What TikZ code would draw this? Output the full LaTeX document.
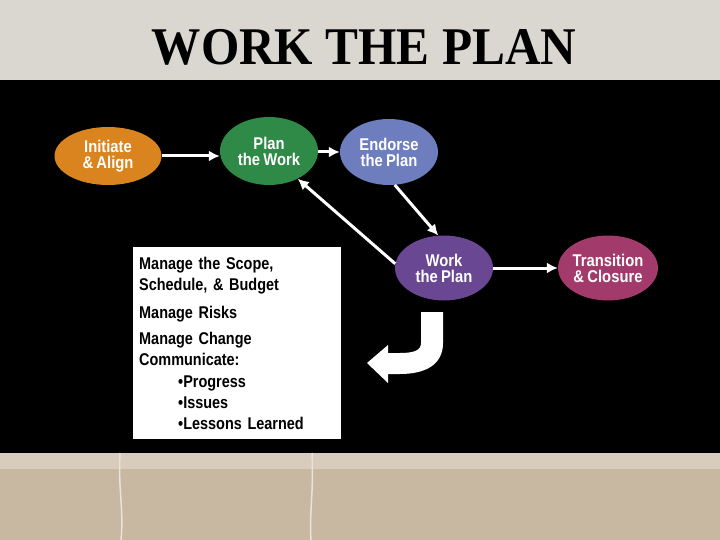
\documentclass[tikz,border=0pt]{standalone}
\usepackage{fontspec}
\setmainfont{Liberation Serif}
\setsansfont{Liberation Sans}
\newfontfamily\narrowsans[FakeStretch=0.87,WordSpace=0.8]{Liberation Sans}
\newfontfamily\boxsans[FakeStretch=0.85,WordSpace=0.75]{Liberation Sans}
\newfontfamily\titlefont[FakeStretch=0.93]{Liberation Serif}
\usetikzlibrary{shapes,arrows.meta,positioning}

\definecolor{marbletop}{HTML}{DAD7D1}
\definecolor{marblebot}{HTML}{C9B8A1}
\definecolor{marblestrip}{HTML}{D8CDBC}
\definecolor{initorange}{HTML}{D9841F}
\definecolor{plangreen}{HTML}{2E8A46}
\definecolor{endorseblue}{HTML}{6E7DBE}
\definecolor{workpurple}{HTML}{6A4793}
\definecolor{closemaroon}{HTML}{A23A6B}

\begin{document}
\begin{tikzpicture}[x=1pt,y=-1pt,
  phase/.style={ellipse,minimum width=98pt,minimum height=66pt,inner sep=0pt,
    align=center,text=white,font=\narrowsans\bfseries\fontsize{17}{16}\selectfont},
  flow/.style={-{Latex[length=11pt,width=11pt]},draw=white,line width=3pt},
  taskbox/.style={rectangle,fill=white,minimum width=208pt,minimum height=192pt,
    text width=196pt,inner sep=6pt,align=left,
    font=\boxsans\bfseries\fontsize{17}{21}\selectfont}]
\useasboundingbox (0,0) rectangle (720,540);

% background
\fill[marbletop] (0,0) rectangle (720,80);
\fill[black] (0,80) rectangle (720,453);
\fill[marblebot] (0,453) rectangle (720,540);
\fill[marblestrip] (0,453) rectangle (720,469);
\draw[white!60!marblebot,line width=1.5pt] (120,453) .. controls (118,490) and (124,510) .. (121,540);
\draw[white!60!marblebot,line width=1.5pt] (312,453) .. controls (314,490) and (309,515) .. (311,540);

\node[font=\titlefont\bfseries\fontsize{53}{53}\selectfont,anchor=base] (title) at (364,65) {WORK THE PLAN};

% phases
\node[phase,fill=initorange,minimum width=107pt,minimum height=58pt] (init) at (108,156) {Initiate\\ \& Align};
\node[phase,fill=plangreen,minimum height=68pt] (plan) at (269,151) {Plan\\ the Work};
\node[phase,fill=endorseblue] (endorse) at (389,152) {Endorse\\ the Plan};
\node[phase,fill=workpurple,minimum height=65pt] (work) at (444,268) {Work\\ the Plan};
\node[phase,fill=closemaroon,minimum height=65pt] (close) at (608,268) {Transition\\ \& Closure};

\draw[flow] (init.east) -- (init.east -| plan.west);
\draw[flow] (plan.east |- endorse.west) -- (endorse.west);
\draw[flow] (endorse.-80) -- (work.100);
\draw[flow] (work.175) -- (plan.-44);
\draw[flow] (work.east) -- (close.west);

% activities
\node[taskbox,anchor=north west] (tasks) at (133,247) {Manage the Scope,\\ Schedule, \& Budget\\[7pt]
  Manage Risks\\[5pt]
  Manage Change\\
  Communicate:\\[1pt]
  \hspace*{39pt}\textbullet Progress\\
  \hspace*{39pt}\textbullet Issues\\
  \hspace*{39pt}\textbullet Lessons Learned};

% turn arrow
\fill[white] (421,312) -- (443,312) -- (443,343)
  .. controls (443,365) and (425,374) .. (400,374) -- (388,374) -- (388,383)
  -- (367,363) -- (388,345) -- (388,353) -- (400,353)
  .. controls (415,353) and (421,350) .. (421,343) -- cycle;
\end{tikzpicture}
\end{document}
